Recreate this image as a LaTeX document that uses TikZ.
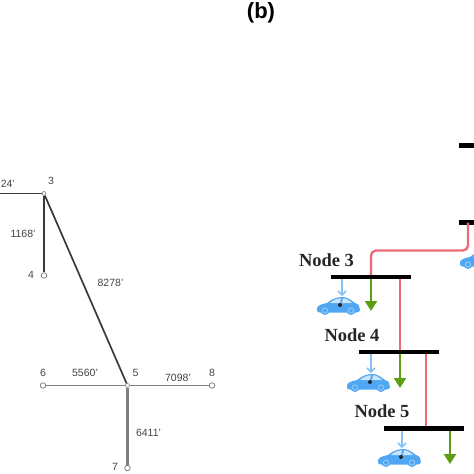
\documentclass[tikz,border=0pt]{standalone}
\usepackage{fontspec}
\setmainfont{Liberation Sans}
\newfontfamily\serifbold[Scale=1]{Liberation Serif}
\usetikzlibrary{arrows.meta}
\definecolor{linedark}{HTML}{3A3A3A}
\definecolor{linegrey}{HTML}{808080}
\definecolor{labelgrey}{HTML}{444444}
\definecolor{feeder}{HTML}{EB6A74}
\definecolor{loadgreen}{HTML}{5C9E12}
\definecolor{evblue}{HTML}{4FA6F2}
\definecolor{evlight}{HTML}{86C1F5}
\tikzset{
  x=1pt,y=-1pt,
  bnode/.style={circle,draw=linegrey,fill=white,line width=.8pt,inner sep=0pt,minimum size=5.5pt},
  dotnode/.style={circle,draw=linegrey,fill=white,line width=.6pt,inner sep=0pt,minimum size=4pt},
  edgedark/.style={draw=linedark,line width=1.7pt},
  edgegrey/.style={draw=linegrey,line width=1.9pt},
  edgethick/.style={draw=linegrey,line width=3pt},
  lbl/.style={font=\fontsize{10.5}{12}\selectfont,text=labelgrey,inner sep=0pt},
  bus/.style={fill=black,inner sep=0pt,minimum width=80pt,minimum height=4.5pt},
  shortbus/.style={fill=black,inner sep=0pt,minimum width=18pt,minimum height=4.5pt},
  nodename/.style={font=\serifbold\bfseries\fontsize{18.5}{20}\selectfont,text=black!85,inner sep=0pt},
  feederline/.style={draw=feeder,line width=2.3pt,rounded corners=5pt},
  loadarrow/.style={draw=loadgreen,line width=2.1pt,-{Triangle[width=12pt,length=10pt]}},
  evarrow/.style={draw=evlight,line width=1.5pt,-{Straight Barb[length=4pt,width=8pt]}},
  pics/evcar/.style={code={
    \fill[evblue] (-21,5) .. controls (-22,1) and (-17,-1) .. (-11,-2)
      .. controls (-7,-5) and (-3,-8) .. (5,-8)
      .. controls (10,-8) and (14,-4) .. (17,-2)
      .. controls (21,-1) and (22,2) .. (22,5)
      .. controls (22,7) and (20,7.5) .. (18,7.5) -- (-18,7.5)
      .. controls (-20,7.5) and (-21,7) .. (-21,5) -- cycle;
    \fill[white!70!evblue] (-8,-2) .. controls (-5,-5) and (-1,-6.5) .. (3,-6.8) -- (2,-2) -- cycle;
    \fill[white!70!evblue] (5,-6.8) .. controls (9,-6.5) and (12,-4) .. (14,-2) -- (4,-2) -- cycle;
    \foreach \wx in {-13,13}{
      \fill[evblue] (\wx,5.5) circle (4.5);
      \draw[white!45!evblue,line width=.8pt] (\wx,5.5) circle (2.6);
    }
    \fill[black!85] (2,0) circle (2);
  }}
}
\begin{document}
\begin{tikzpicture}
\useasboundingbox (0,0) rectangle (474,474);
\clip (0,0) rectangle (474,474);
% title
\node[font=\bfseries\fontsize{22}{24}\selectfont,inner sep=0pt] (title) at (261,12.5) {(b)};
% left feeder
\coordinate (offleft) at (-3,193.5);
\node[dotnode] (b3) at (44,193.5) {};
\node[bnode] (b4) at (44,275.5) {};
\node[dotnode] (b5) at (127.5,385.5) {};
\node[bnode] (b6) at (43,385.5) {};
\node[bnode] (b7) at (127.5,468) {};
\node[bnode] (b8) at (212,385.5) {};
\draw[edgedark] (offleft) -- (b3);
\draw[edgedark] (b3) -- (b4);
\draw[edgedark] (b3) -- (b5);
\draw[edgegrey] (b6) -- (b5);
\draw[edgegrey] (b5) -- (b8);
\draw[edgethick] (b5) -- (b7);
\node[lbl] (n3) at (51,181) {3};
\node[lbl] (n4) at (31,275) {4};
\node[lbl] (n5) at (135.5,373) {5};
\node[lbl] (n6) at (43,373) {6};
\node[lbl] (n7) at (115,467) {7};
\node[lbl] (n8) at (212,372.5) {8};
\node[lbl,anchor=east] (l24) at (15,183.5) {24'};
\node[lbl] (l1168) at (23,234) {1168'};
\node[lbl] (l8278) at (110.5,283) {8278'};
\node[lbl] (l5560) at (85,372.5) {5560'};
\node[lbl] (l7098) at (178,378) {7098'};
\node[lbl] (l6411) at (148.5,433) {6411'};
% right feeder
\node[shortbus,anchor=west] (top) at (459,145.5) {};
\node[shortbus,anchor=west] (node2) at (459,222.5) {};
\node[bus] (node3) at (371,277) {};
\node[bus] (node4) at (399,352) {};
\node[bus] (node5) at (424,428.5) {};
\draw[feederline] (468,222.5) -- (468,250.5) -- (371,250.5) -- (node3.center);
\draw[feederline] (400,277) -- (400,352);
\draw[feederline] (426,352) -- (426,428.5);
\node[bus] at (node3) {};
\node[bus] at (node4) {};
\node[bus] at (node5) {};
\node[nodename] (name3) at (326.5,260) {Node 3};
\node[nodename] (name4) at (352,335) {Node 4};
\node[nodename] (name5) at (382,411.5) {Node 5};
% loads
\coordinate (load3) at (371,311);
\coordinate (load4) at (400,388);
\coordinate (load5) at (450,464);
\draw[loadarrow] (371,279) -- (load3);
\draw[loadarrow] (400,354) -- (load4);
\draw[loadarrow] (450,430.5) -- (load5);
% EV
\pic at (338,305) {evcar};
\pic at (368,382) {evcar};
\pic at (399,457) {evcar};
\pic at (481,259) {evcar};
\coordinate (ev3) at (342,296);
\coordinate (ev4) at (371,373);
\coordinate (ev5) at (402,448);
\draw[evarrow] (342,279) -- (ev3);
\draw[evarrow] (371,354) -- (ev4);
\draw[evarrow] (402,430.5) -- (ev5);
\end{tikzpicture}
\end{document}
